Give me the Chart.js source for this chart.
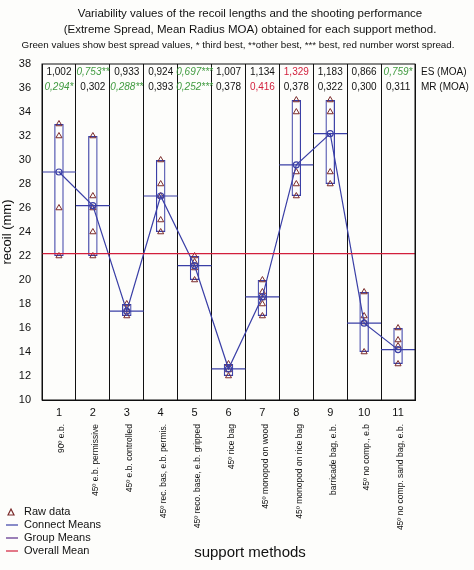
<!DOCTYPE html>
<html>
<head>
<meta charset="utf-8">
<script src="https://cdn.jsdelivr.net/npm/chart.js@4"></script>
<style>
  body { margin: 0; background: #fdfdfb; }
  #wrap { width: 474px; height: 570px; position: relative; }
</style>
</head>
<body>
<div id="wrap"><canvas id="recoilChart"></canvas></div>
<script>
const groups = ["1", "2", "3", "4", "5", "6", "7", "8", "9", "10", "11"];
const methods = ["90º e.b.", "45º e.b. permissive", "45º e.b. controlled", "45º rec. bas, e.b. permis.",
  "45º reco. base, e.b. gripped", "45º rice bag", "45º monopod on wood", "45º monopod on rice bag",
  "barricade bag, e.b.", "45º no comp., e.b", "45º no comp. sand bag, e.b."];
const rawData = [
  [33, 32, 26, 22], [32, 27, 26, 24, 22], [18, 17.5, 17], [30, 28, 27, 25, 24],
  [22, 21.5, 21, 20], [13, 12.5, 12], [20, 19, 18.5, 18, 17], [35, 34, 29, 28, 27],
  [35, 34, 29, 28], [19, 17, 16.5, 14], [16, 15, 14.5, 13]
];
const groupMeans = [29, 26.2, 17.4, 27, 21.2, 12.6, 18.6, 29.6, 32.2, 16.4, 14.2];
const overallMean = 22.2;
const esValues = ["1,002", "0,753**", "0,933", "0,924", "0,697***", "1,007", "1,134", "1,329", "1,183", "0,866", "0,759*"];
const mrValues = ["0,294*", "0,302", "0,288**", "0,393", "0,252***", "0,378", "0,416", "0,378", "0,322", "0,300", "0,311"];
const esColor = ["k", "g", "k", "k", "g", "k", "k", "r", "k", "k", "g"];
const mrColor = ["g", "k", "g", "k", "g", "k", "r", "k", "k", "k", "k"];

const BLUE = "#3a3fa6";
const RED = "#d21f3c";
const BROWN = "#7a2a2a";
const GREEN = "#3f9a3f";
const colMap = { k: "#111", g: GREEN, r: RED };

const rawPoints = [];
rawData.forEach((vals, i) => vals.forEach(v => rawPoints.push({ x: groups[i], y: v })));

const extras = {
  id: "extras",
  afterDatasetsDraw(chart) {
    const { ctx, chartArea: a, scales: { x, y } } = chart;
    const step = x.getPixelForValue(1) - x.getPixelForValue(0);
    ctx.save();
    // overall mean
    ctx.strokeStyle = RED; ctx.lineWidth = 1.2;
    ctx.beginPath();
    ctx.moveTo(a.left, y.getPixelForValue(overallMean));
    ctx.lineTo(a.right, y.getPixelForValue(overallMean));
    ctx.stroke();
    // group means
    ctx.strokeStyle = BLUE; ctx.lineWidth = 1.2;
    groupMeans.forEach((m, i) => {
      const cx = x.getPixelForValue(i), py = y.getPixelForValue(m);
      ctx.beginPath(); ctx.moveTo(cx - step / 2, py); ctx.lineTo(cx + step / 2, py); ctx.stroke();
    });
    // table
    ctx.textAlign = "center"; ctx.textBaseline = "middle";
    groups.forEach((g, i) => {
      const cx = x.getPixelForValue(i);
      ctx.font = (esColor[i] === "g" ? "italic " : "") + "10px 'Liberation Sans', Arial";
      ctx.fillStyle = colMap[esColor[i]];
      ctx.fillText(esValues[i], cx, a.top + 8);
      ctx.font = (mrColor[i] === "g" ? "italic " : "") + "10px 'Liberation Sans', Arial";
      ctx.fillStyle = colMap[mrColor[i]];
      ctx.fillText(mrValues[i], cx, a.top + 23);
    });
    ctx.fillStyle = "#111"; ctx.textAlign = "left"; ctx.font = "10px 'Liberation Sans', Arial";
    ctx.fillText("ES (MOA)", a.right + 6, a.top + 8);
    ctx.fillText("MR (MOA)", a.right + 6, a.top + 23);
    // rotated method labels
    ctx.font = "8.5px 'Liberation Sans', Arial"; ctx.textAlign = "right";
    methods.forEach((m, i) => {
      ctx.save();
      ctx.translate(x.getPixelForValue(i) + 3, a.bottom + 24);
      ctx.rotate(-Math.PI / 2);
      ctx.fillText(m, 0, 0);
      ctx.restore();
    });
    // frame
    ctx.strokeStyle = "#111"; ctx.lineWidth = 1;
    ctx.strokeRect(a.left, a.top, a.right - a.left, a.bottom - a.top);
    // title
    ctx.textAlign = "center"; ctx.fillStyle = "#111";
    ctx.font = "11.5px 'Liberation Sans', Arial";
    ctx.fillText("Variability values of the recoil lengths and the shooting performance", 250, 14);
    ctx.fillText("(Extreme Spread, Mean Radius MOA) obtained for each support method.", 250, 30);
    ctx.font = "9.8px 'Liberation Sans', Arial";
    ctx.fillText("Green values show best spread values, * third best, **other best, *** best, red number worst spread.", 238, 45);
    // legend
    ctx.textAlign = "left"; ctx.font = "11px 'Liberation Sans', Arial";
    const leg = [["tri", BROWN, "Raw data"], ["line", BLUE, "Connect Means"], ["line", "#5a2a8a", "Group Means"], ["line", RED, "Overall Mean"]];
    leg.forEach((l, k) => {
      const ly = 512 + k * 13;
      ctx.strokeStyle = l[1]; ctx.lineWidth = 1.2;
      ctx.beginPath();
      if (l[0] === "tri") { ctx.moveTo(8, ly + 3); ctx.lineTo(11, ly - 3); ctx.lineTo(14, ly + 3); ctx.closePath(); }
      else { ctx.moveTo(6, ly); ctx.lineTo(18, ly); }
      ctx.stroke();
      ctx.fillStyle = "#111";
      ctx.fillText(l[2], 24, ly);
    });
    ctx.font = "15px 'Liberation Sans', Arial"; ctx.textAlign = "center";
    ctx.fillText("support methods", 250, 553);
    ctx.restore();
  }
};

new Chart(document.getElementById("recoilChart"), {
  data: {
    labels: groups,
    datasets: [
      {
        type: "line", label: "Connect Means", data: groupMeans,
        borderColor: BLUE, borderWidth: 1.2, pointStyle: "circle", pointRadius: 3,
        pointBorderColor: BLUE, pointBackgroundColor: "transparent", order: 1
      },
      {
        type: "scatter", label: "Raw data", data: rawPoints,
        pointStyle: "triangle", pointRadius: 3.5, pointBorderColor: BROWN,
        pointBackgroundColor: "transparent", pointBorderWidth: 1, order: 2
      },
      {
        type: "bar", label: "Range", data: rawData.map(v => [Math.min(...v), Math.max(...v)]),
        backgroundColor: "transparent", borderColor: BLUE, borderWidth: 1.2,
        borderSkipped: false, barPercentage: 0.28, categoryPercentage: 1, order: 3
      }
    ]
  },
  options: {
    responsive: true, maintainAspectRatio: false, animation: false,
    layout: { padding: { top: 64, right: 59, left: 0, bottom: 0 } },
    plugins: { legend: { display: false }, tooltip: { enabled: false } },
    scales: {
      x: {
        type: "category", offset: true,
        grid: { offset: true, color: "#111", lineWidth: 1, drawTicks: false },
        border: { color: "#111" },
        ticks: { color: "#111", font: { size: 11, family: "'Liberation Sans', Arial" }, padding: 6 },
        afterFit: s => { s.height = 170; }
      },
      y: {
        min: 10, max: 38,
        grid: { display: false },
        border: { color: "#111" },
        ticks: { stepSize: 2, color: "#111", font: { size: 11, family: "'Liberation Sans', Arial" } },
        title: { display: true, text: "recoil (mm)", color: "#111", font: { size: 13, family: "'Liberation Sans', Arial" }, padding: 0 },
        afterFit: s => { s.width = 42; }
      }
    }
  },
  plugins: [extras]
});
</script>
</body>
</html>
